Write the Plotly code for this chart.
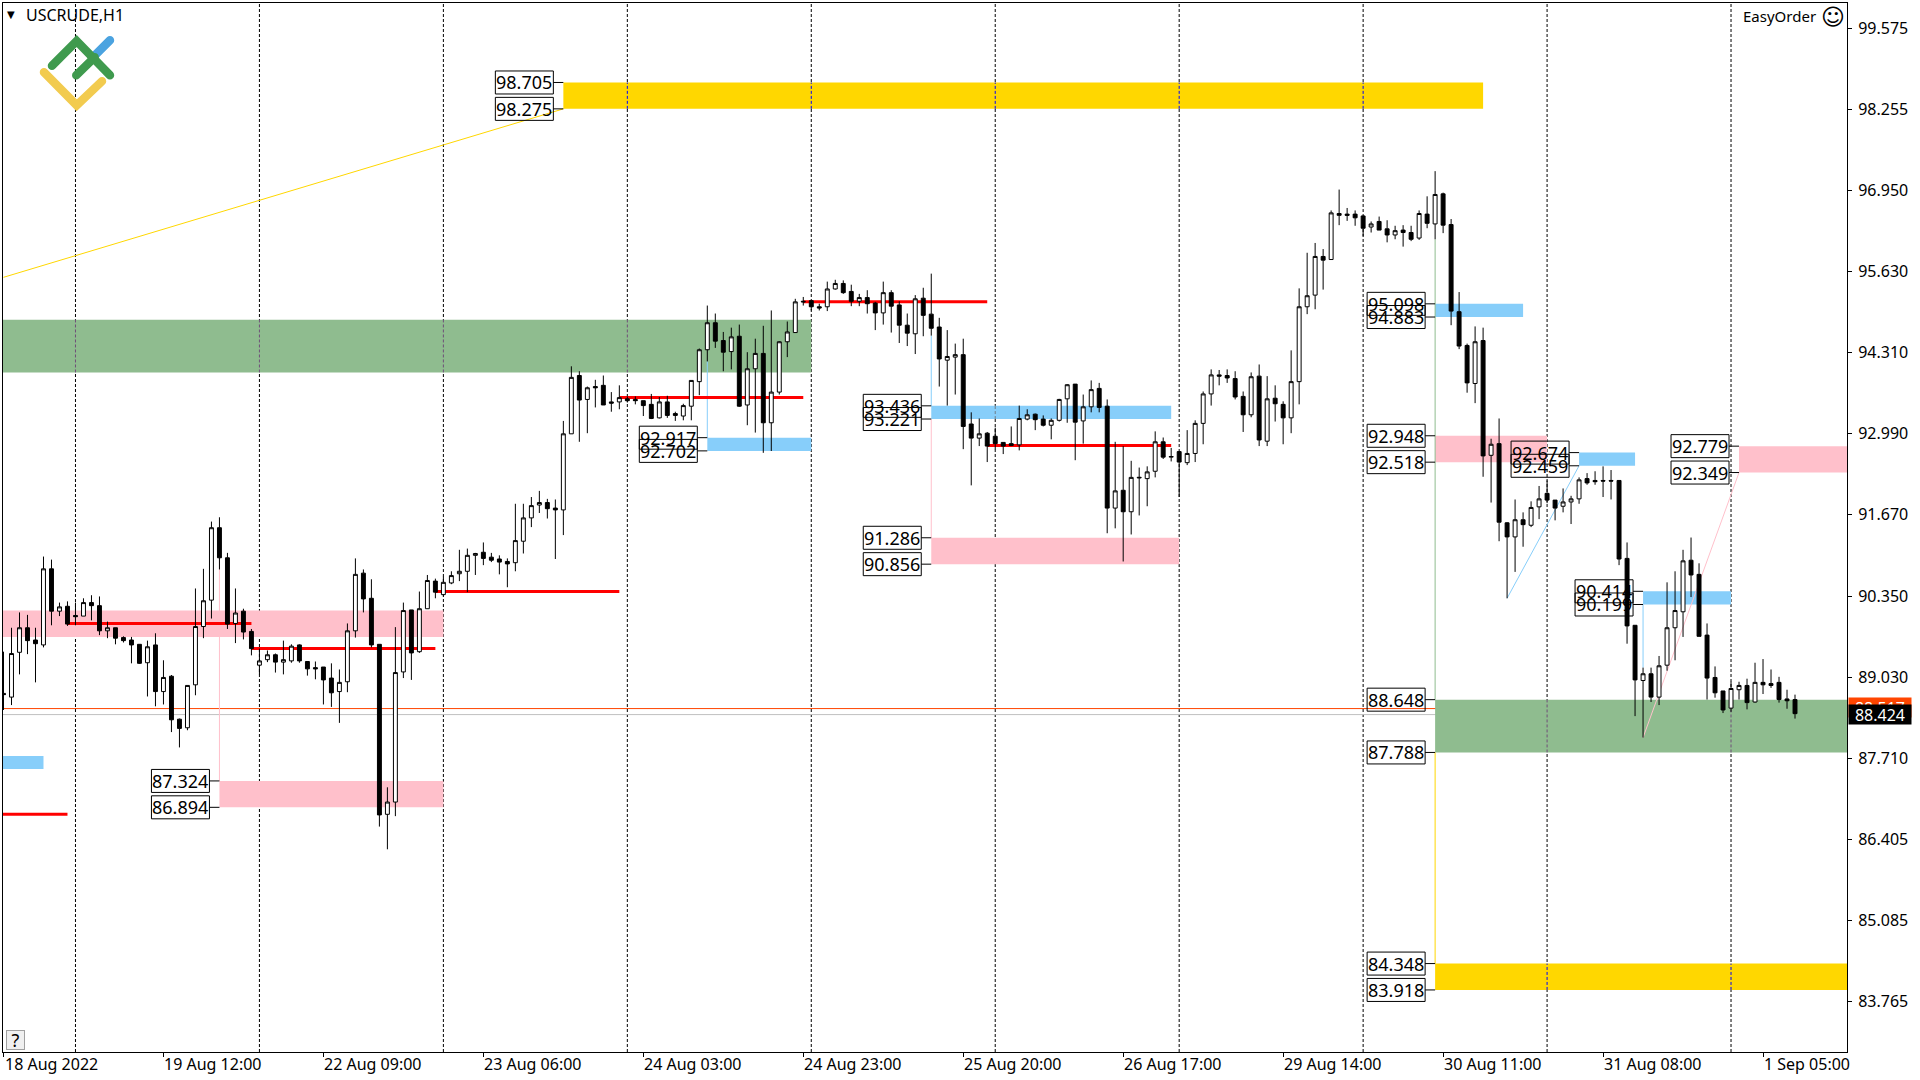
import base64
import plotly.graph_objects as go

open_prices = [
88.75,88.69,89.42,89.82,89.62,89.54,90.78,90.09,90.17,90.02,
90.01,90.23,90.18,89.77,89.82,89.66,89.62,89.55,89.25,89.54,
88.78,89.03,88.33,88.19,88.89,89.84,90.27,91.45,90.96,89.89,
90.09,89.76,89.21,89.30,89.38,89.26,89.28,89.54,89.27,89.17,
89.18,89.00,88.78,88.94,89.77,90.71,90.30,89.55,86.78,86.98,
89.10,90.11,89.43,90.13,90.58,90.36,90.55,90.70,90.74,91.00,
91.05,90.97,90.94,90.90,90.88,91.23,91.61,91.82,91.86,91.77,
91.74,92.98,93.93,93.54,93.75,93.77,93.50,93.50,93.55,93.54,
93.52,93.46,93.24,93.50,93.31,93.27,93.43,93.83,94.35,94.79,
94.50,94.32,94.57,93.45,94.04,94.29,93.16,93.66,94.48,94.63,
95.14,95.15,95.05,95.05,95.34,95.43,95.30,95.14,95.20,95.11,
94.95,95.28,95.08,94.75,94.61,95.19,94.93,94.72,94.18,94.23,
94.27,93.14,92.91,92.99,92.94,92.84,92.82,92.80,93.22,93.30,
93.22,93.12,93.20,93.55,93.79,93.19,93.42,93.72,93.43,91.77,
92.06,91.71,92.26,92.25,92.37,92.85,92.60,92.69,92.51,92.66,
93.15,93.63,93.94,93.93,93.88,93.59,93.29,93.92,92.86,93.56,
93.46,93.24,93.83,95.05,95.24,95.87,95.82,96.57,96.56,96.56,
96.53,96.35,96.44,96.32,96.22,96.30,96.26,96.17,96.56,96.40,
96.89,96.39,94.97,94.42,93.80,94.50,92.63,92.82,91.53,91.30,
91.58,91.49,91.79,92.01,91.90,91.80,91.87,91.92,92.25,92.22,
92.22,92.22,92.22,90.95,89.86,88.96,89.07,88.69,89.21,89.82,
90.08,90.92,90.69,89.70,89.01,88.79,88.51,88.81,88.88,88.61,
88.93,88.91,88.93,88.66,88.65]

high_prices = [
89.43,89.82,90.07,90.03,89.82,90.98,90.93,90.23,90.25,90.23,
90.30,90.35,90.33,89.92,89.82,89.68,89.67,89.55,89.61,89.73,
89.29,89.05,88.34,88.88,90.46,90.78,91.55,91.62,91.04,90.46,
90.13,89.80,89.48,89.45,89.40,89.61,89.55,89.55,89.27,89.27,
89.18,89.24,89.14,89.89,90.95,90.77,90.61,89.55,87.22,89.83,
90.23,90.11,90.41,90.68,90.62,90.65,90.74,91.09,91.11,91.04,
91.21,91.04,91.00,90.95,91.84,91.84,91.95,92.05,91.92,91.91,
93.19,94.08,94.00,93.75,93.86,93.93,93.66,93.77,93.59,93.59,
93.52,93.63,93.58,93.60,93.34,93.47,93.85,94.37,95.07,94.94,
94.64,94.71,94.76,94.31,94.53,94.74,94.99,94.49,94.81,95.18,
95.21,95.15,95.10,95.46,95.49,95.48,95.41,95.26,95.32,95.13,
95.46,95.32,95.14,94.94,95.24,95.36,95.59,94.87,94.67,94.45,
94.53,93.33,93.23,93.01,93.08,92.84,93.10,93.44,93.38,93.31,
93.28,93.23,93.55,93.79,93.79,93.62,93.85,93.81,93.54,92.85,
92.78,92.54,92.43,92.45,93.02,92.92,92.75,92.70,93.04,93.20,
93.67,94.03,94.02,94.03,94.00,93.67,93.98,94.11,93.92,93.77,
93.51,94.34,95.35,95.93,96.09,95.99,96.62,96.96,96.66,96.62,
96.54,96.44,96.52,96.46,96.37,96.38,96.37,96.62,96.85,97.26,
96.91,96.48,95.29,94.45,94.73,94.71,92.90,93.23,91.54,91.91,
91.70,91.88,92.13,92.22,91.90,92.09,91.97,92.27,92.34,92.37,
92.45,92.39,92.22,91.21,89.86,89.17,89.17,89.36,90.56,90.74,
91.09,91.29,90.87,89.89,89.19,88.79,88.94,88.94,88.99,89.25,
89.31,89.14,89.02,88.81,88.73]

low_prices = [
88.48,88.56,89.06,89.39,88.93,89.50,89.86,90.01,89.85,89.86,
90.01,89.94,89.70,89.65,89.55,89.58,89.24,89.23,88.70,88.54,
88.57,88.12,87.87,88.15,88.72,89.65,89.97,90.77,89.80,89.57,
89.63,89.37,89.06,89.26,89.09,89.06,89.25,89.25,89.04,88.98,
88.57,88.53,88.27,88.77,89.66,90.07,89.50,86.58,86.21,86.75,
89.00,88.97,89.41,90.13,90.30,90.33,90.53,90.58,90.40,90.68,
90.84,90.89,90.69,90.48,90.74,91.03,91.46,91.69,91.60,90.94,
91.33,92.98,92.85,92.99,93.41,93.45,93.34,93.38,93.49,93.46,
93.27,93.22,93.23,93.24,93.19,93.20,93.20,93.61,94.16,94.38,
94.00,94.03,93.42,93.12,93.00,92.67,92.70,93.62,94.23,94.63,
95.07,94.99,94.99,94.98,95.33,95.26,95.06,95.06,94.94,94.67,
94.76,94.63,94.46,94.41,94.28,94.57,94.58,93.75,93.44,93.62,
92.73,92.14,92.78,92.52,92.73,92.65,92.78,92.71,93.20,93.04,
93.10,92.89,93.18,93.16,92.55,92.82,93.33,93.33,91.36,91.44,
90.90,91.34,91.65,91.80,92.27,92.57,92.53,91.95,92.47,92.52,
92.81,93.44,93.77,93.81,93.54,93.01,93.25,92.78,92.78,93.18,
92.81,92.99,93.46,94.93,95.01,95.33,95.82,96.38,96.45,96.37,
96.20,96.26,96.30,96.10,96.15,96.03,96.12,96.14,96.33,96.15,
96.25,94.75,94.36,93.65,93.48,92.28,91.86,91.23,90.30,90.73,
91.14,91.46,91.59,91.85,91.57,91.70,91.51,91.84,92.15,92.15,
91.95,91.91,90.84,89.56,88.38,88.03,88.61,88.56,89.12,89.29,
89.67,90.32,89.68,88.65,88.68,88.43,88.45,88.65,88.49,88.60,
88.74,88.84,88.60,88.50,88.34]

close_prices = [
88.73,89.40,89.82,89.61,89.56,90.78,90.09,90.16,89.88,90.00,
90.23,90.18,89.77,89.82,89.65,89.61,89.54,89.24,89.51,88.78,
89.01,88.32,88.18,88.88,89.84,90.26,91.45,90.96,89.88,90.06,
89.75,89.48,89.28,89.38,89.26,89.30,89.52,89.28,89.15,89.15,
88.97,88.76,88.93,89.77,90.69,90.29,89.54,86.77,86.98,89.09,
90.10,89.41,90.13,90.59,90.40,90.56,90.67,90.74,91.00,91.03,
90.95,90.92,90.89,90.86,91.24,91.61,91.81,91.86,91.76,91.74,
92.98,93.90,93.53,93.73,93.73,93.45,93.48,93.57,93.52,93.52,
93.44,93.23,93.50,93.28,93.28,93.44,93.85,94.35,94.79,94.49,
94.31,94.56,93.43,94.04,94.29,93.16,93.66,94.48,94.64,95.13,
95.13,95.05,95.03,95.34,95.43,95.28,95.14,95.20,95.10,94.95,
95.28,95.06,94.75,94.62,95.18,94.91,94.70,94.20,94.24,94.27,
93.10,92.91,92.98,92.78,92.82,92.78,92.79,93.23,93.29,93.21,
93.12,93.20,93.54,93.78,93.17,93.42,93.70,93.41,91.77,92.05,
91.71,92.27,92.27,92.36,92.85,92.60,92.61,92.52,92.66,93.15,
93.63,93.94,93.92,93.89,93.58,93.29,93.91,92.88,93.55,93.47,
93.24,93.83,95.05,95.23,95.87,95.81,96.58,96.54,96.54,96.50,
96.33,96.40,96.30,96.22,96.29,96.26,96.15,96.57,96.41,96.88,
96.38,94.98,94.41,93.81,94.48,92.62,92.81,91.54,91.30,91.58,
91.50,91.78,91.92,91.90,91.77,91.87,91.92,92.23,92.18,92.20,
92.21,92.21,90.94,89.85,88.97,89.07,88.69,89.20,89.82,90.10,
90.91,90.68,89.68,89.00,88.76,88.48,88.83,88.88,88.60,88.93,
88.89,88.88,88.65,88.63,88.42]

bar_index = list(range(len(open_prices)))

price_tick_labels = ["99.575","98.255","96.950","95.630","94.310","92.990","91.670","90.350","89.030","87.710","86.405","85.085","83.765"]
price_tick_levels = [99.58,98.26,96.94,95.62,94.30,92.98,91.66,90.33,89.01,87.69,86.37,85.05,83.73]
time_tick_bars = [0,20,40,60,80,100,120,140,160,180,200,220]
time_tick_labels = ["18 Aug 2022","19 Aug 12:00","22 Aug 09:00","23 Aug 06:00","24 Aug 03:00","24 Aug 23:00",
                    "25 Aug 20:00","26 Aug 17:00","29 Aug 14:00","30 Aug 11:00","31 Aug 08:00","1 Sep 05:00"]
day_separator_bars = [9,32,55,78,101,124,147,170,193,216]

LAST_BAR = 230.5  # right edge of the price window, in bars
FIRST_BAR = -0.0625
gold_zones = [(70,185,98.275,98.705),(179,LAST_BAR,83.918,84.348)]
green_zones = [(FIRST_BAR,101,93.98,94.84),(179,LAST_BAR,87.788,88.648)]
pink_zones = [(FIRST_BAR,55,89.67,90.10),(27,55,86.894,87.324),(116,147,90.856,91.286),(179,193,92.518,92.948),(217,LAST_BAR,92.349,92.779)]
blue_zones = [(FIRST_BAR,5,87.52,87.73),(88,101,92.702,92.917),(116,146,93.221,93.436),(179,190,94.883,95.098),(197,204,92.459,92.674),(205,216,90.199,90.414)]
red_levels = [(FIRST_BAR,8,86.78),(8,31,89.89),(31,54,89.48),(54,77,90.41),(77,100,93.57),(100,123,95.13),(123,146,92.79)]
label_sets = [(70,[98.705,98.275]),(27,[87.324,86.894]),(88,[92.917,92.702]),(116,[93.436,93.221,91.286,90.856]),
              (179,[95.098,94.883,92.948,92.518,88.648,87.788,84.348,83.918]),(197,[92.674,92.459]),(205,[90.414,90.199]),(217,[92.779,92.349])]
gold_links = [(0,95.53,70,98.275),(179,87.788,179,84.348)]
pink_links = [(27,90.96,27,87.324),(116,93.221,116,91.286),(205,88.03,217,92.349)]
blue_links = [(88,94.16,88,92.917),(116,94.58,116,93.436),(188,90.30,197,92.459),(205,89.17,205,90.199)]
green_links = [(179,96.15,179,88.648)]
ask_price = 88.517
bid_price = 88.424
ask_line_level = 88.503
bid_line_level = 88.405

PLOT_L, PLOT_R, PLOT_T, PLOT_B = 3, 1847.5, 2.7, 1052
BLACK = "#000000"
GOLD, GREEN, PINK, SKY = "#FFD700", "#8FBC8F", "#FFC0CB", "#87CEFA"
ORANGE, SILVER = "#FF4500", "#C0C0C0"
FONT = "Noto Sans"

def paper_x(px):
    return (px - PLOT_L) / (PLOT_R - PLOT_L)

def paper_y(py):
    return 1 - (py - PLOT_T) / (PLOT_B - PLOT_T)

shapes = []
for bar in day_separator_bars:
    shapes.append(dict(type="line", layer="below", xref="x", yref="paper", x0=bar, x1=bar, y0=0, y1=1,
                       line=dict(color=BLACK, width=1, dash="3px,2px")))

def add_zones(zones, colour):
    for x0, x1, lo, hi in zones:
        shapes.append(dict(type="rect", layer="below", xref="x", yref="y", x0=x0, x1=x1, y0=lo, y1=hi,
                           fillcolor=colour, line=dict(width=0)))

add_zones(gold_zones, GOLD)
add_zones(green_zones, GREEN)
add_zones(pink_zones, PINK)
add_zones(blue_zones, SKY)

# separators show through the zones in an inverted tint
def tint(bars, zones, colour):
    for bar in bars:
        for x0, x1, lo, hi in zones:
            if x0 < bar < x1:
                shapes.append(dict(type="line", layer="below", xref="x", yref="y", x0=bar, x1=bar, y0=lo, y1=hi,
                                   line=dict(color=colour, width=1, dash="3px,2px")))

tint(day_separator_bars, gold_zones, "#0000FF")
tint(day_separator_bars, green_zones, "#6F4F78")
tint(day_separator_bars, blue_zones, "#707F8A")

for level, colour in [(bid_line_level, SILVER), (ask_line_level, ORANGE)]:
    shapes.append(dict(type="line", layer="below", xref="paper", yref="y", x0=0, x1=1, y0=level, y1=level,
                       line=dict(color=colour, width=1)))

def add_links(links, colour):
    for x0, y0, x1, y1 in links:
        shapes.append(dict(type="line", layer="below", xref="x", yref="y", x0=x0, x1=x1, y0=y0, y1=y1,
                           line=dict(color=colour, width=1)))

add_links(green_links, GREEN)
add_links(gold_links, GOLD)
add_links(pink_links, PINK)
add_links(blue_links, SKY)

for x0, x1, price in red_levels:
    shapes.append(dict(type="line", layer="below", xref="x", yref="y", x0=x0, x1=x1, y0=price, y1=price,
                       line=dict(color="#FF0000", width=3)))

annotations = []
for bar, prices in label_sets:
    for price in prices:
        shapes.append(dict(type="line", layer="below", xref="x", yref="y", xsizemode="pixel", xanchor=bar,
                           x0=-10, x1=0, y0=price, y1=price, line=dict(color=BLACK, width=1)))
        shapes.append(dict(type="rect", layer="below", xref="x", yref="y", xsizemode="pixel", ysizemode="pixel",
                           xanchor=bar, yanchor=price, x0=-68, x1=-10, y0=-11.5, y1=11.5,
                           line=dict(color=BLACK, width=1), fillcolor="rgba(0,0,0,0)"))
        annotations.append(dict(x=bar, xref="x", xshift=-39, xanchor="center", y=price, yref="y", yanchor="middle",
                                text=f"{price:.3f}", showarrow=False, borderpad=0,
                                font=dict(family=FONT, size=18, color=BLACK)))

logo_svg = (
    '<svg xmlns="http://www.w3.org/2000/svg" viewBox="0 0 84 86" width="84" height="86">'
    '<g fill="none" stroke-width="8.5" stroke-linecap="round" stroke-linejoin="miter">'
    '<path d="M59 25 L74 10" stroke="#4BA3E0"/>'
    '<path d="M16 35.5 L40.7 10.7 L74 45" stroke="#3F9A4E"/>'
    '<path d="M40.3 45 L58.7 27" stroke="#3F9A4E"/>'
    '<path d="M8 42 L40.7 75 L66 51" stroke="#F2CB4F"/>'
    '</g></svg>'
)
logo_uri = "data:image/svg+xml;base64," + base64.b64encode(logo_svg.encode()).decode()

for bar, text in zip(time_tick_bars, time_tick_labels):
    annotations.append(dict(x=bar, xref="x", y=0, yref="paper", yshift=0, xanchor="left", yanchor="top",
                            text=text, showarrow=False, borderpad=0, font=dict(family=FONT, size=16, color=BLACK)))

def paper_note(px, py, text, size, xanchor="left", **kw):
    return dict(x=paper_x(px), xref="paper", y=paper_y(py), yref="paper", xanchor=xanchor, yanchor="middle",
                text=text, showarrow=False, borderpad=0, font=dict(family=kw.pop("family", FONT), size=size,
                color=kw.pop("color", BLACK)), **kw)

annotations.append(paper_note(25, 15, "USCRUDE,H1", 16))
annotations.append(paper_note(6, 14, "▼", 10, family="DejaVu Sans"))
annotations.append(paper_note(1742, 16, "EasyOrder", 15))
annotations.append(paper_note(1820, 17, "☺", 23, family="DejaVu Sans"))
annotations.append(paper_note(6, 1040, "?", 18, width=17, height=18, bgcolor="#F0F0F0", bordercolor="#A0A0A0",
                              borderwidth=1, align="center"))
for price, colour, nudge in [(ask_price, ORANGE, 0), (bid_price, BLACK, -1)]:
    annotations.append(dict(x=1, xref="paper", xshift=1, y=price, yref="y", yshift=nudge, xanchor="left", yanchor="middle",
                            text=f"{price:.3f}", showarrow=False, width=62, height=19, align="center",
                            bgcolor=colour, borderpad=0, font=dict(family=FONT, size=16, color="#FFFFFF")))

fig = go.Figure(go.Candlestick(
    x=bar_index, open=open_prices, high=high_prices, low=low_prices, close=close_prices,
    increasing=dict(line=dict(color=BLACK, width=1), fillcolor="#FFFFFF"),
    decreasing=dict(line=dict(color=BLACK, width=1), fillcolor=BLACK),
    whiskerwidth=0, hoverinfo="skip", showlegend=False,
))

fig.update_layout(
    width=1920, height=1080, autosize=False,
    margin=dict(l=PLOT_L, r=1920 - PLOT_R, t=PLOT_T, b=1080 - PLOT_B, pad=0),
    paper_bgcolor="#FFFFFF", plot_bgcolor="#FFFFFF", showlegend=False,
    shapes=shapes, annotations=annotations,
    images=[dict(source=logo_uri, xref="paper", yref="paper", x=paper_x(36), y=paper_y(30),
                 sizex=84 / (PLOT_R - PLOT_L), sizey=86 / (PLOT_B - PLOT_T), sizing="stretch",
                 xanchor="left", yanchor="top", layer="above")],
    xaxis=dict(range=[FIRST_BAR, LAST_BAR], rangeslider=dict(visible=False), showgrid=False, zeroline=False,
               tickmode="array", tickvals=time_tick_bars, showticklabels=False, ticks="outside", ticklen=4,
               tickcolor=BLACK, tickwidth=1, showline=True, linecolor=BLACK, linewidth=1, mirror=True),
    yaxis=dict(range=[82.907, 100.0], side="right", showgrid=False, zeroline=False,
               tickmode="array", tickvals=price_tick_levels, ticktext=price_tick_labels,
               ticks="outside", ticklen=4, tickcolor=BLACK, tickwidth=1, ticklabelstandoff=3,
               tickfont=dict(family=FONT, size=16, color=BLACK),
               showline=True, linecolor=BLACK, linewidth=1, mirror=True),
)

fig.write_html("out.html", config=dict(displayModeBar=False),
               post_script="document.body.style.margin='0';document.body.style.overflow='hidden';")
